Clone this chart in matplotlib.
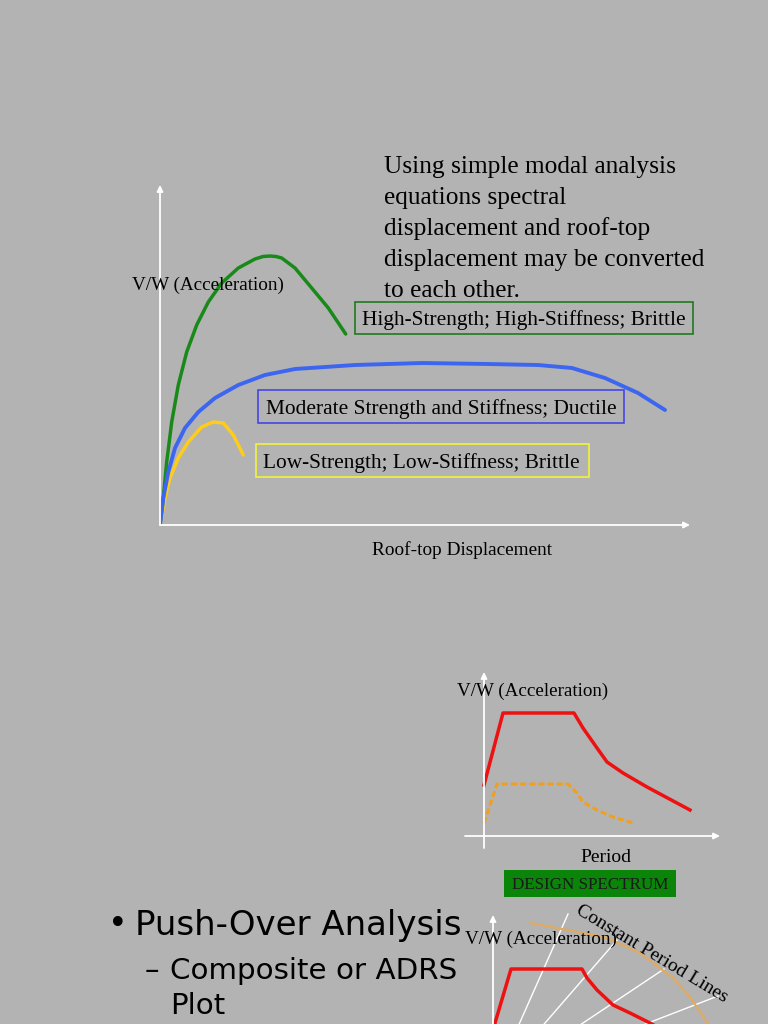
import matplotlib.pyplot as plt
from matplotlib.patches import Rectangle

W, H = 768, 1024
BG = '#b3b3b3'
SERIF = ['Liberation Serif', 'DejaVu Serif']

# push-over curves (top chart), x = displacement, y = V/W, in chart units
green_x = [0, 3.3, 6.7, 11.7, 18.3, 26.7, 36.7, 48.3, 61.7, 78.3, 95, 103,
           110, 116, 121.7, 135, 151.7, 168.3, 185.7]
green_y = [0, 27, 63, 103, 140, 173, 200, 223, 242, 257, 266, 268.5,
           269, 268.5, 267, 257, 237, 217, 191]
blue_x = [0, 3.3, 8.3, 15, 25, 38.3, 55, 78.3, 105, 135, 195, 262, 328,
          378, 412, 445, 478, 505]
blue_y = [0, 27, 53, 77, 97, 113, 127, 140, 150, 156, 160, 162, 161,
          160, 157, 147, 132, 115]
yellow_x = [0, 5, 10, 18.3, 28.3, 41.7, 53.3, 63.3, 73.3, 83.3]
yellow_y = [0, 27, 47, 67, 83, 98, 103, 102, 90, 70]

box_labels = ['High-Strength; High-Stiffness; Brittle',
              'Moderate Strength and Stiffness; Ductile',
              'Low-Strength; Low-Stiffness; Brittle']

# design spectrum, period vs V/W
spec_t = [0, 19, 90, 99, 113, 123, 139, 163, 206]
spec_a = [51, 123, 123, 108, 88, 74, 63, 49, 26]
spec2_t = [0, 13, 84, 93, 99, 113, 129, 149]
spec2_a = [13, 52, 52, 43, 34, 26, 19, 13]

# ADRS plot
adrs_d = [0, 2, 18, 89, 94, 104, 120, 137, 157, 175]
adrs_a = [53, 60, 114, 114, 105, 93, 78, 70, 60, 50]
period_end_x = [75, 124, 171, 225]
period_end_y = [169, 143, 114, 87]
arc_x = [37, 80, 114, 147, 180, 197, 214, 225]
arc_y = [160, 152, 145, 130, 105, 86, 61, 40]


def fx(x):
    return x / W


def fy(y):
    return 1 - y / H


def axes_px(left, top, right, bottom):
    ax = fig.add_axes([fx(left), fy(bottom), (right - left) / W, (bottom - top) / H])
    ax.set_facecolor('none')
    ax.axis('off')
    return ax


def arrow(ax, p0, p1):
    ax.annotate('', xy=p1, xytext=p0, xycoords='data',
                arrowprops=dict(arrowstyle='-|>', color='white', lw=1.3,
                                mutation_scale=9, shrinkA=0, shrinkB=0),
                annotation_clip=False)


def box_px(left, top, right, bottom, **kw):
    fig.patches.append(Rectangle((fx(left), fy(bottom)), (right - left) / W,
                                 (bottom - top) / H, transform=fig.transFigure,
                                 **kw))


fig = plt.figure(figsize=(W / 100, H / 100), dpi=100, facecolor=BG)

# ---- top chart
ax1 = axes_px(160, 185, 690, 525)
ax1.set_xlim(0, 530)
ax1.set_ylim(0, 340)
arrow(ax1, (0, 0), (0, 340))
arrow(ax1, (0, 0), (530, 0))
ax1.plot(yellow_x, yellow_y, color='#ffcc1a', lw=2.5, solid_capstyle='round',
         solid_joinstyle='round')
ax1.plot(green_x, green_y, color='#198a19', lw=2.5, solid_capstyle='round',
         solid_joinstyle='round')
ax1.plot(blue_x, blue_y, color='#3c66f0', lw=2.8, solid_capstyle='round',
         solid_joinstyle='round')

fig.text(fx(208), fy(285), 'V/W (Acceleration)', family=SERIF, fontsize=13.8,
         ha='center', va='center')
fig.text(fx(462), fy(550), 'Roof-top Displacement', family=SERIF, fontsize=13.9,
         ha='center', va='center')

para = ['Using simple modal analysis', 'equations spectral',
        'displacement and roof-top', 'displacement may be converted',
        'to each other.']
for i, line in enumerate(para):
    fig.text(fx(384), fy(167 + 31 * i), line, family=SERIF, fontsize=18.3,
             ha='left', va='center')

box_rect = [(355, 302, 693, 334), (258, 390, 624, 423), (256, 444, 589, 477)]
box_text = [(362, 320), (266, 409), (263, 463)]
box_edge = ['#1f7a1f', '#4646e6', '#f2f23c']
for lab, (l, t, r, b), (tx, ty), ec in zip(box_labels, box_rect, box_text,
                                           box_edge):
    box_px(l, t, r, b, fc='none', ec=ec, lw=1.2)
    fig.text(fx(tx), fy(ty), lab, family=SERIF, fontsize=15.4, ha='left',
             va='center')

# ---- design spectrum
ax2 = axes_px(465, 672, 720, 848)
ax2.set_xlim(-19, 236)
ax2.set_ylim(-12, 164)
arrow(ax2, (0, -12), (0, 164))
arrow(ax2, (-19, 0), (236, 0))
ax2.plot(spec_t, spec_a, color='#ee1111', lw=2.5)
ax2.plot(spec2_t, spec2_a, color='#f0a020', lw=2.2, ls=(0, (2, 1)))
fig.text(fx(533), fy(691), 'V/W (Acceleration)', family=SERIF, fontsize=13.7,
         ha='center', va='center')
fig.text(fx(606), fy(857), 'Period', family=SERIF, fontsize=14,
         ha='center', va='center')
box_px(504, 870, 676, 897, fc='#0a850a', ec='none')
fig.text(fx(590), fy(885), 'DESIGN SPECTRUM', family=SERIF, fontsize=12.3,
         color='#1a1a1a', ha='center', va='center')

# ---- ADRS plot (origin lies below the page)
ax3 = axes_px(470, 900, 768, 1100)
ax3.set_xlim(-23, 275)
ax3.set_ylim(-17, 183)
arrow(ax3, (0, 0), (0, 168))
for ex, ey in zip(period_end_x, period_end_y):
    ax3.plot([0, ex], [0, ey], color='white', lw=1)
ax3.plot(arc_x, arc_y, color='#e0aa60', lw=1.6)
ax3.plot(adrs_d, adrs_a, color='#ee1111', lw=2.5)
fig.text(fx(465), fy(939), 'V/W (Acceleration)', family=SERIF, fontsize=13.8,
         ha='left', va='center')
fig.text(fx(652), fy(954), 'Constant Period Lines', family=SERIF,
         fontsize=14, rotation=-31, ha='center', va='center',
         rotation_mode='anchor')

# ---- bullet text
fig.text(fx(108), fy(925), '•', fontsize=24, ha='left', va='center')
fig.text(fx(135), fy(925), 'Push-Over Analysis', fontsize=24.5, ha='left',
         va='center')
fig.text(fx(145), fy(971), '–', fontsize=21, ha='left', va='center')
fig.text(fx(170), fy(971), 'Composite or ADRS', fontsize=21.2, ha='left',
         va='center')
fig.text(fx(170), fy(1006), 'Plot', fontsize=21.2, ha='left', va='center')

fig.savefig('out.png', dpi=100, facecolor=BG)
